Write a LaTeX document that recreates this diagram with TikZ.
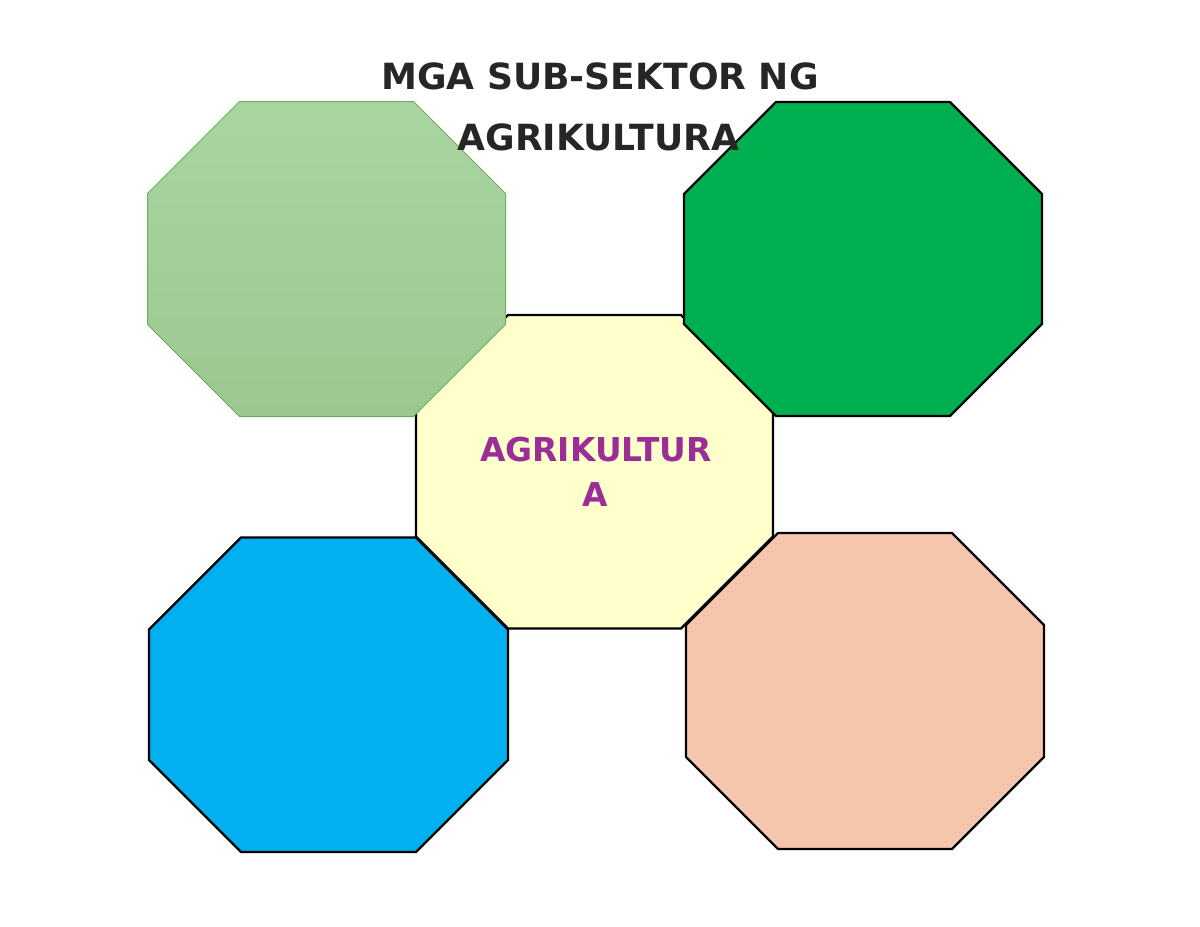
\documentclass[tikz,border=0pt]{standalone}
\usepackage{fontspec}
\setmainfont{DejaVu Sans}
\definecolor{titlegray}{HTML}{262626}
\definecolor{centerpurple}{RGB}{155,45,150}
\definecolor{ltgreentop}{RGB}{169,213,161}
\definecolor{ltgreenbot}{RGB}{155,200,143}
\definecolor{ltgreenline}{RGB}{106,176,90}
\definecolor{dkgreen}{HTML}{00B050}
\definecolor{skyblue}{HTML}{00B0F0}
\definecolor{peach}{RGB}{246,198,172}
\definecolor{paleyellow}{HTML}{FFFFCC}
% #1 style, #2 left x, #3 top y, #4 width, #5 height, #6 corner cut
\newcommand\octshape[6]{%
  \path[#1] (#2+#6,#3) -- (#2+#4-#6,#3) -- (#2+#4,#3+#6) -- (#2+#4,#3+#5-#6)
    -- (#2+#4-#6,#3+#5) -- (#2+#6,#3+#5) -- (#2,#3+#5-#6) -- (#2,#3+#6) -- cycle;}
\begin{document}
\begin{tikzpicture}[x=1bp,y=-1bp,
  octline/.style={draw=black,line width=2.2bp,line join=miter},
  titletext/.style={text=titlegray,font=\fontsize{36.2}{43}\selectfont\bfseries,anchor=base,inner sep=0pt},
  centertext/.style={text=centerpurple,font=\fontsize{33}{39}\selectfont\bfseries,anchor=base,inner sep=0pt}]
\useasboundingbox (0,0) rectangle (1200,927);
% center octagon
\octshape{octline,fill=paleyellow}{416}{315}{357}{313.5}{92}
% top-left octagon (gradient)
\octshape{draw=ltgreenline,line width=1bp,top color=ltgreentop,bottom color=ltgreenbot}{147.5}{101.5}{358}{315}{92}
% top-right octagon
\octshape{octline,fill=dkgreen}{684}{102}{358}{314}{92}
% bottom-left octagon
\octshape{octline,fill=skyblue}{149}{537.5}{359}{314.5}{92}
% bottom-right octagon
\octshape{octline,fill=peach}{686}{533}{358}{316}{92}
% title
\node[titletext] (title1) at (600,89) {MGA SUB-SEKTOR NG};
\node[titletext] (title2) at (598.5,150) {AGRIKULTURA};
% center label
\node[centertext] (center1) at (596,461) {AGRIKULTUR};
\node[centertext] (center2) at (595.5,506) {A};
\end{tikzpicture}
\end{document}
